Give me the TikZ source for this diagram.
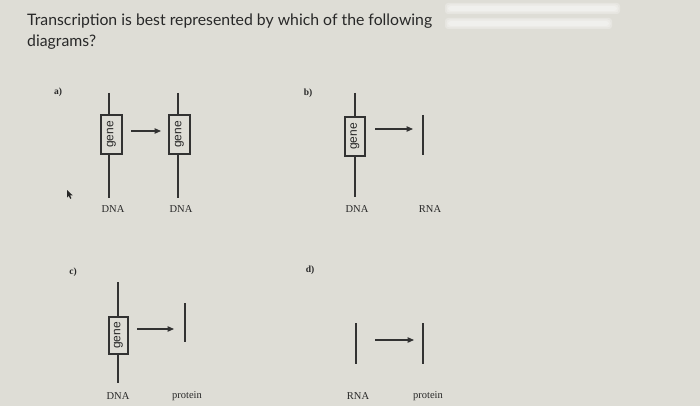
\documentclass[tikz,border=0pt]{standalone}
\usepackage{fontspec}
\setmainfont{Liberation Serif}
\newfontfamily\titlefont{Lato}
\newfontfamily\boxfont{Liberation Sans}
\usetikzlibrary{arrows.meta}
\definecolor{bg}{RGB}{222,221,214}
\definecolor{ink}{RGB}{40,40,40}
\definecolor{linec}{RGB}{50,50,50}
\tikzset{
  strand/.style={draw=linec, line width=1.2pt},
  genebox/.style={draw=linec, line width=1.1pt, fill=bg, rotate=90, inner sep=0pt,
    minimum width=39pt, minimum height=21pt, font=\boxfont\fontsize{12}{12}\selectfont, text=ink},
  flow/.style={draw=linec, line width=1.2pt, -{Triangle[length=6.5pt,width=5.5pt]}},
  lbl/.style={font=\fontsize{10.5}{11}\selectfont, text=ink, inner sep=0pt},
  opt/.style={font=\bfseries\fontsize{9.5}{9.5}\selectfont, text=ink, inner sep=0pt},
  title/.style={font=\titlefont\fontsize{15.8}{21}\selectfont, text=ink, anchor=base west, inner sep=0pt},
  glare/.style={fill=white, opacity=0.25}
}
\begin{document}
\begin{tikzpicture}[x=1pt,y=-1pt]
\useasboundingbox (0,0) rectangle (700,406);
\fill[bg] (0,0) rectangle (700,406);
% glare
\foreach \d in {0,1.5,3}{
  \fill[glare, rounded corners=3pt] (445+\d,3+\d) rectangle (620-\d,14-\d);
  \fill[glare, rounded corners=3pt] (445+\d,18+\d) rectangle (612-\d,29-\d);
}
% title
\node[title] (t1) at (27,26) {Transcription is best represented by which of the following};
\node[title] (t2) at (27,47) {diagrams?};
% a)
\node[opt] (la) at (58,92) {a)};
\coordinate (a1t) at (109,93); \coordinate (a1b) at (109,198);
\coordinate (a2t) at (178,93); \coordinate (a2b) at (178,198);
\draw[strand] (a1t) -- (a1b);
\draw[strand] (a2t) -- (a2b);
\node[genebox] (ga1) at (111.5,134.5) {gene};
\node[genebox] (ga2) at (179.5,134.5) {gene};
\coordinate (aa1) at (131,131); \coordinate (aa2) at (161,131);
\draw[flow] (aa1) -- (aa2);
\node[lbl] (da1) at (113,209) {DNA};
\node[lbl] (da2) at (181,209) {DNA};
% cursor
\fill[black!85] (67,190) -- (67,197.5) -- (68.8,195.8) -- (70.2,198.8) -- (71.4,198.2) -- (70,195.3) -- (72.6,195.3) -- cycle;
% b)
\node[opt] (lb) at (308,93) {b)};
\coordinate (bt) at (355,93); \coordinate (bb) at (355,197);
\draw[strand] (bt) -- (bb);
\node[genebox, minimum height=20pt] (gb) at (355,136.5) {gene};
\coordinate (ba1) at (375,129); \coordinate (ba2) at (413,129);
\draw[flow] (ba1) -- (ba2);
\coordinate (rbt) at (423,115); \coordinate (rbb) at (423,155);
\draw[strand] (rbt) -- (rbb);
\node[lbl] (db) at (357,209) {DNA};
\node[lbl] (rb) at (430,209) {RNA};
% c)
\node[opt] (lc) at (73,272) {c)};
\coordinate (ct) at (118,282); \coordinate (cb) at (118,383);
\draw[strand] (ct) -- (cb);
\node[genebox, minimum height=19pt, minimum width=37pt] (gc) at (118.5,335.5) {gene};
\coordinate (ca1) at (137,329); \coordinate (ca2) at (174,329);
\draw[flow] (ca1) -- (ca2);
\coordinate (pct) at (185,303); \coordinate (pcb) at (185,342);
\draw[strand] (pct) -- (pcb);
\node[lbl] (dc) at (118,396) {DNA};
\node[lbl] (pc) at (187,396) {protein};
% d)
\node[opt] (ld) at (310,270) {d)};
\coordinate (dlt) at (356,323); \coordinate (dlb) at (356,364);
\draw[strand] (dlt) -- (dlb);
\coordinate (da1c) at (375,340); \coordinate (da2c) at (414,340);
\draw[flow] (da1c) -- (da2c);
\coordinate (drt) at (423,323); \coordinate (drb) at (423,364);
\draw[strand] (drt) -- (drb);
\node[lbl] (rd) at (358,396) {RNA};
\node[lbl] (pd) at (428,396) {protein};
\end{tikzpicture}
\end{document}
